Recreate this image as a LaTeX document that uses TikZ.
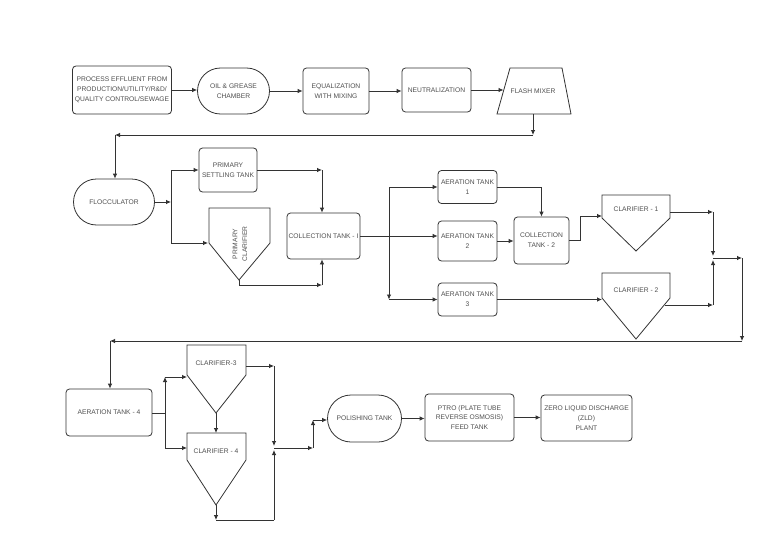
\documentclass[tikz,border=0pt]{standalone}
\usepackage{fontspec}
\setmainfont{Liberation Sans}
\usetikzlibrary{arrows.meta,shapes.misc}
\definecolor{lnc}{HTML}{333333}
\definecolor{txc}{HTML}{505050}
\begin{document}
\begin{tikzpicture}[x=1pt,y=-1pt,
  every node/.style={font=\fontsize{6.7}{9.8}\selectfont, text=txc, align=center, inner sep=0.5pt},
  box/.style={draw=lnc, line width=0.8pt, rounded corners=3.5pt},
  stad/.style={draw=lnc, line width=0.8pt, rounded rectangle},
  shp/.style={draw=lnc, line width=0.8pt, line join=miter},
  arr/.style={draw=lnc, line width=0.8pt, -{Latex[length=5pt,width=4.5pt]}},
  wire/.style={draw=lnc, line width=0.8pt}]
\useasboundingbox[fill=white] (0,0) rectangle (768,543);

% ---------- top row ----------
\node[box, minimum width=99pt, minimum height=48pt] (proc) at (122,90) {PROCESS EFFLUENT FROM\\PRODUCTION/UTILITY/R\&D/\\QUALITY CONTROL/SEWAGE};
\node[stad, minimum width=73pt, minimum height=46pt] (oil) at (233.5,91) {OIL \& GREASE\\CHAMBER};
\node[box, minimum width=66pt, minimum height=46pt] (eq) at (336,91) {EQUALIZATION\\WITH MIXING};
\node[box, minimum width=69pt, minimum height=44pt] (neu) at (436.5,90) {NEUTRALIZATION};
\draw[shp] (510,68) -- (562,68) -- (571,114) -- (497,114) -- cycle;
\node (fm) at (533,91) {FLASH MIXER};
\coordinate (fmL) at (503.5,91);
\coordinate (fmB) at (533,114);

\draw[arr] (proc.east) -- (proc.east -| oil.west);
\draw[arr] (oil.east) -- (oil.east -| eq.west);
\draw[arr] (eq.east) -- (eq.east -| neu.west);
\draw[arr] (neu.east) -- (neu.east -| fmL);

% ---------- flocculator group ----------
\coordinate (c1) at (533,135);
\coordinate (c2) at (115,135);
\node[stad, minimum width=82pt, minimum height=46pt] (floc) at (114,202) {FLOCCULATOR};
\draw[arr] (fmB) -- (c1);
\draw[arr] (c1) -- (c2);
\draw[arr] (c2) -- (c2 |- floc.north);

\coordinate (j1) at (171,202);
\node[box, minimum width=58pt, minimum height=44pt] (pst) at (228,170) {PRIMARY\\SETTLING TANK};
\draw[shp] (209,208) -- (270,208) -- (270,243) -- (239,280) -- (209,243) -- cycle;
\node[rotate=90] (pct) at (240,244) {PRIMARY\\CLARIFIER};
\coordinate (pcin) at (208,243);
\coordinate (pctip) at (239,280);
\coordinate (pcb) at (239,285);
\coordinate (j2) at (322,285);
\node[box, minimum width=73pt, minimum height=46pt] (ct1) at (323.5,236) {COLLECTION TANK - I};
\coordinate (j3) at (322,170);

\draw[arr] (floc.east) -- (j1);
\draw[arr] (j1) |- (pst.west);
\draw[arr] (j1) |- (pcin);
\draw[arr] (pst.east) -- (j3);
\draw[arr] (j3) -- (j3 |- ct1.north);
\draw[arr] (pctip) -- (pcb) -- (j2);
\draw[arr] (j2) -- (j2 |- ct1.south);

% ---------- aeration group ----------
\node[box, minimum width=59pt, minimum height=33pt] (at1) at (467.5,187) {AERATION TANK\\1};
\node[box, minimum width=59pt, minimum height=40pt] (at2) at (467.5,241) {AERATION TANK\\2};
\node[box, minimum width=59pt, minimum height=33pt] (at3) at (467.5,299.5) {AERATION TANK\\3};
\node[box, minimum width=55pt, minimum height=47pt] (ct2) at (541.5,240.5) {COLLECTION\\TANK - 2};
\coordinate (j4) at (389,236);
\coordinate (j4b) at (389,299.5);

\draw[arr] (ct1.east |- j4) -- (j4 -| at2.west);
\draw[arr] (j4) |- (at1.west);
\draw[arr] (j4) -- (j4b);
\draw[arr] (j4b) -- (at3.west);
\draw[arr] (at1.east) -| (ct2.north);
\draw[arr] (at2.east) -- (at2.east -| ct2.west);

% clarifiers 1 and 2
\draw[shp] (602,195) -- (670,195) -- (670,218) -- (636,251) -- (602,218) -- cycle;
\node (cl1) at (636,209) {CLARIFIER - 1};
\draw[shp] (602,273) -- (670,273) -- (670,298) -- (636,339) -- (602,298) -- cycle;
\node (cl2) at (636,290) {CLARIFIER - 2};
\coordinate (j5) at (580,240.5);
\coordinate (j6) at (580,216);
\coordinate (c1in) at (602,216);
\coordinate (c2in) at (602,299.5);
\coordinate (c1out) at (670,212);
\coordinate (c2out) at (665,305);
\coordinate (j7) at (713,212);
\coordinate (j8) at (713,256);
\coordinate (j9) at (713,305);
\coordinate (j10) at (713,260);
\coordinate (j11) at (713,258);
\coordinate (j12) at (742,258);
\coordinate (j13) at (742,341);
\coordinate (j14) at (110,341);

\draw[arr] (ct2.east) -- (j5) -- (j6) -- (c1in);
\draw[arr] (at3.east) -- (c2in);
\draw[arr] (c1out) -- (j7);
\draw[arr] (j7) -- (j8);
\draw[arr] (c2out) -- (j9);
\draw[arr] (j9) -- (j10);
\draw[arr] (j11) -- (j12);
\draw[arr] (j12) -- (j13);
\draw[arr] (j13) -- (j14);

% ---------- bottom group ----------
\node[box, minimum width=86pt, minimum height=47pt] (at4) at (109,412.5) {AERATION TANK - 4};
\draw[arr] (j14) -- (j14 |- at4.north);

\draw[shp] (187,345) -- (246,345) -- (246,375) -- (216,413) -- (187,375) -- cycle;
\node (cl3) at (216,363) {CLARIFIER-3};
\draw[shp] (187,433) -- (246,433) -- (246,460) -- (216,505) -- (187,460) -- cycle;
\node (cl4) at (216,451) {CLARIFIER - 4};

\coordinate (j15) at (165,413);
\coordinate (j16) at (165,377);
\coordinate (c3in) at (187,377);
\coordinate (c4in) at (187,448);
\coordinate (c3tip) at (216,413);
\coordinate (c4top) at (216,433);
\coordinate (c3out) at (246,366);
\coordinate (j18) at (274,366);
\coordinate (j19) at (274,446);
\coordinate (c4tip) at (216,505);
\coordinate (j20) at (216,520);
\coordinate (j21) at (274,520);
\coordinate (j22) at (274,450);
\coordinate (j23) at (274,448);
\coordinate (j24) at (313,448);
\coordinate (j25) at (313,420);

\draw[wire] (at4.east |- j15) -- (j15);
\draw[arr] (j15) -- (j16);
\draw[arr] (j16) -- (c3in);
\draw[arr] (j15) |- (c4in);
\draw[arr] (c3tip) -- (c4top);
\draw[arr] (c3out) -- (j18);
\draw[arr] (j18) -- (j19);
\draw[arr] (c4tip) -- (j20);
\draw[wire] (j20) -- (j21);
\draw[arr] (j21) -- (j22);

\node[stad, minimum width=75pt, minimum height=47pt] (pt) at (364.5,418.5) {POLISHING TANK};
\node[box, minimum width=89pt, minimum height=47pt] (ptro) at (469.5,417.5) {PTRO (PLATE TUBE\\REVERSE OSMOSIS)\\FEED TANK};
\node[box, minimum width=91pt, minimum height=46pt] (zld) at (586.5,418) {ZERO LIQUID DISCHARGE\\(ZLD)\\PLANT};

\draw[arr] (j23) -- (j24);
\draw[arr] (j24) -- (j25);
\draw[arr] (j25) -- (j25 -| pt.west);
\draw[arr] (pt.east) -- (pt.east -| ptro.west);
\draw[arr] (ptro.east) -- (ptro.east -| zld.west);
\end{tikzpicture}
\end{document}
